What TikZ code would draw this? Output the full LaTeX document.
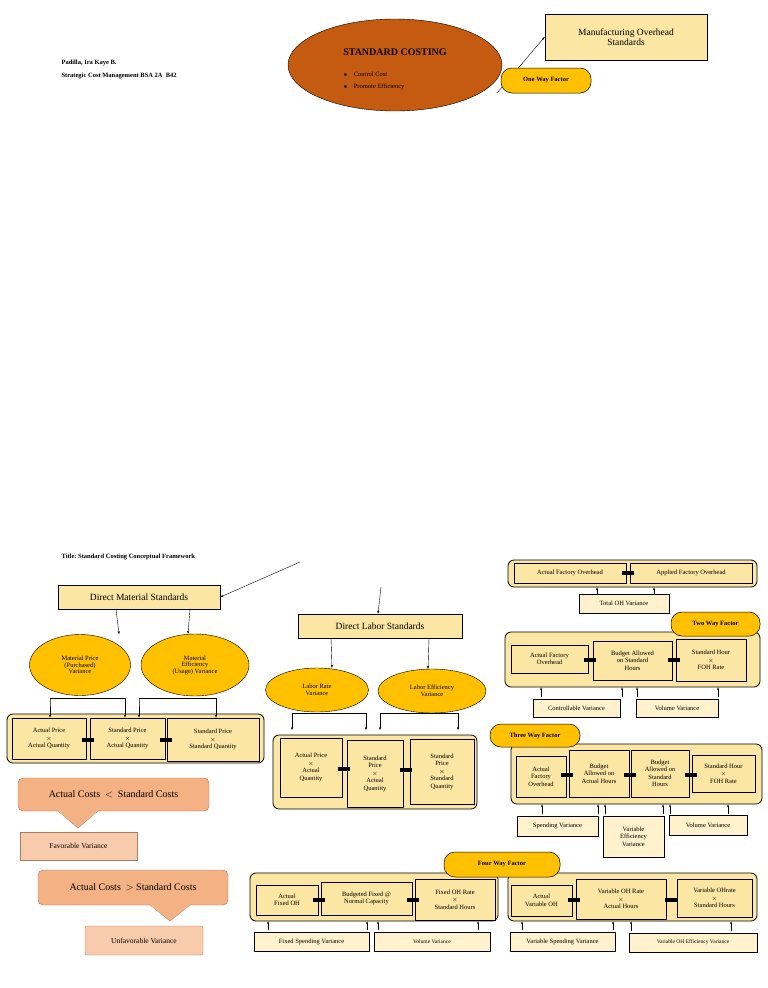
\documentclass[tikz,border=0pt]{standalone}
\usepackage{fontspec}
\setmainfont{Liberation Serif}
\usetikzlibrary{fit,shapes.geometric,shapes.callouts,arrows.meta}
\definecolor{lt}{HTML}{FCE6A4}
\definecolor{gold}{HTML}{FFC000}
\definecolor{rust}{HTML}{C55A11}
\definecolor{salm}{HTML}{F4B183}
\definecolor{pale}{HTML}{F8CBAD}
\definecolor{vpale}{HTML}{FFF2CC}
\newcommand\R[7]{\node[#1,fit={(#3,#4)(#5,#6)},inner sep=0pt] (#2) {}; \node[font=\fontsize{6.5}{7.5}\selectfont,align=center] at (#2.center) {#7};}
\newcommand\E[7]{\node[ell,minimum width=#5pt,minimum height=#6pt] (#1) at (#3,#4) {}; \node[font=\fontsize{#7}{#7}\selectfont,align=center] at (#1.center) {#2};}
\newcommand\B[2]{\fill (#1-6,#2-2) rectangle (#1+6,#2+2);}
\begin{document}
\begin{tikzpicture}[x=1pt,y=-1pt,
 grp/.style={draw,fill=lt,rounded corners=6pt,line width=0.8pt},
 ib/.style={draw,fill=lt,line width=0.7pt},
 vb/.style={draw,fill=vpale,line width=0.5pt},
 std/.style={draw,fill=lt,line width=0.8pt},
 pill/.style={draw,fill=gold,rounded corners=11pt,line width=0.5pt},
 ell/.style={ellipse,draw,fill=gold,inner sep=0pt},
 arr/.style={-{Stealth[length=3pt]},line width=0.4pt},
 sa/.style={-{Stealth[length=2.5pt]},line width=0.4pt}]
\useasboundingbox (0,0) rectangle (768,988);
\fill[white] (0,0) rectangle (768,988);
\node[anchor=west,font=\bfseries\fontsize{6.5}{7.5}\selectfont] (n1) at (58,63) {Padilla, Ira Kaye B.};
\node[anchor=west,font=\bfseries\fontsize{6.5}{7.5}\selectfont] (n2) at (58,76) {Strategic Cost Management BSA 2A\ \ B42};
\node[ellipse,draw,fill=rust,minimum width=214pt,minimum height=92pt] (sc) at (395,65) {};
\node[font=\bfseries\fontsize{10}{11}\selectfont] at (395,52) {STANDARD COSTING};
\node[anchor=west,font=\fontsize{6.5}{7.5}\selectfont] at (340,74) {$\bullet$\quad Control Cost};
\node[anchor=west,font=\fontsize{6.5}{7.5}\selectfont] at (340,87) {$\bullet$\quad Promote Efficiency};
\R{std}{mo}{545}{14}{707}{60}{\fontsize{9.5}{11}\selectfont Manufacturing Overhead\\\fontsize{9.5}{11}\selectfont Standards}
\draw[arr] (497,93) -- (mo.west);
\R{pill}{owf}{501}{68}{591}{93}{\bfseries One Way Factor}
\node[anchor=west,font=\bfseries\fontsize{6.5}{7.5}\selectfont] (tt) at (58,557) {Title:\ Standard Costing Conceptual Framework};
% direct material
\R{std}{dm}{58}{585}{220}{609}{\fontsize{9.5}{11}\selectfont Direct Material Standards}
\coordinate (t1) at (300,562);
\draw[arr] (t1) -- (dm.east);
\E{mp}{Material Price\\(Purchased)\\Variance}{80}{665}{101}{61}{6.5}
\E{me}{Material\\Efficiency\\(Usage) Variance}{195}{665}{108}{62}{6.5}
\draw[arr] (dm.south -| 116,0) -- (mp.north -| 119,0);
\draw[arr] (dm.south -| 190,0) -- (me.north -| 188,0);
\R{grp}{mg}{7}{714}{264}{763}{}
\R{ib}{m1}{12}{718}{86}{759}{Actual Price\\$\times$\\Actual Quantity}
\R{ib}{m2}{90}{718}{165}{759}{Standard Price\\$\times$\\Actual Quantity}
\R{ib}{m3}{167}{718}{259}{761}{Standard Price\\$\times$\\Standard Quantity}
\B{88}{740}\B{166}{740}
\draw[arr] (mp.south -| 50,0) ++(0,3) -- (50,698) -- (m1.north -| 50,0);
\draw[arr] (50,698) -- (125,698) -- (m2.north -| 125,0);
\draw[arr] (me.south -| 139,0) ++(0,3) -- (139,698) -- (m2.north -| 139,0);
\draw[arr] (139,698) -- (216,698) -- (m3.north -| 216,0);
% direct labor
\R{std}{dl}{298}{614}{462}{638}{\fontsize{9.5}{11}\selectfont Direct Labor Standards}
\coordinate (t2) at (381,587);
\draw[arr] (t2) -- (dl.north -| 378,0);
\E{lr}{Labor Rate\\Variance}{317}{690}{103}{44}{6.5}
\E{le}{Labor Efficiency\\Variance}{432}{691}{108}{44}{6.5}
\draw[arr] (dl.south -| 331,0) -- (lr.north -| 332,0);
\draw[arr] (dl.south -| 429,0) -- (le.north -| 428,0);
\R{grp}{lg}{273}{735}{477}{809}{}
\R{ib}{l1}{280}{738}{342}{797}{Actual Price\\$\times$\\Actual\\Quantity}
\R{ib}{l2}{347}{740}{403}{807}{Standard\\Price\\$\times$\\Actual\\Quantity}
\R{ib}{l3}{410}{739}{474}{804}{Standard\\Price\\$\times$\\Standard\\Quantity}
\B{344}{769}\B{406}{770}
\draw[arr] (292,713) -- (292,730);
\draw (292,713) -- (366,713); \draw[arr] (366,713) -- (366,730);
\draw[arr] (380,713) -- (380,730);
\draw (380,713) -- (458,713); \draw[arr] (458,713) -- (458,730);
% callouts
\R{draw=salm!70!black,fill=salm,rounded corners=5pt}{ac1}{18}{778}{209}{811}{\fontsize{10}{12}\selectfont Actual Costs \ $<$\ \ Standard Costs}
\fill[salm] (58,810) -- (78,828) -- (98,810) -- cycle;
\draw[salm!70!black] (58,811) -- (78,828) -- (98,811);
\R{draw=salm!70!black,fill=pale}{fv}{20}{832}{137}{860}{\fontsize{7.5}{9}\selectfont Favorable Variance}
\R{draw=salm!70!black,fill=salm,rounded corners=5pt}{ac2}{38}{870}{228}{905}{\fontsize{10}{12}\selectfont Actual Costs \ $>$ Standard Costs}
\fill[salm] (150,904) -- (170,921) -- (190,904) -- cycle;
\draw[salm!70!black] (150,905) -- (170,921) -- (190,905);
\R{draw=salm!70!black,fill=pale,rounded corners=2pt}{uv}{85}{926}{203}{955}{\fontsize{7.5}{9}\selectfont Unfavorable Variance}
% total OH
\R{grp}{tg}{508}{560}{757}{587}{}
\R{ib}{t1b}{514}{563}{626}{583}{Actual Factory Overhead}
\R{ib}{t2b}{630}{563}{752}{583}{Applied Factory Overhead}
\B{628}{573}
\R{vb}{tov}{579}{594}{669}{613}{Total OH Variance}
\draw[sa] (tov.north -| 597,0) -- (tg.south -| 597,0);
\draw[sa] (tov.north -| 654,0) -- (tg.south -| 654,0);
% two way
\R{grp}{twg}{505}{632}{760}{687}{}
\R{pill}{twf}{671}{612}{760}{636}{\bfseries Two Way Factor}
\R{ib}{w1}{511}{645}{588}{673}{Actual Factory\\Overhead}
\R{ib}{w2}{593}{641}{672}{680}{Budget Allowed\\on Standard\\Hours}
\R{ib}{w3}{676}{639}{746}{681}{Standard Hour\\$\times$\\FOH Rate}
\B{590}{660}\B{674}{660}
\R{vb}{cv}{533}{699}{620}{717}{Controllable Variance}
\R{vb}{vv}{636}{699}{718}{717}{Volume Variance}
\foreach \x in {541,622}{\draw[sa] (cv.north -| \x,0) ++(0,-2) -- (twg.south -| \x,0);}
\foreach \x in {637,718}{\draw[sa] (vv.north -| \x,0) ++(0,-2) -- (twg.south -| \x,0);}
% three way
\R{grp}{thg}{511}{744}{762}{804}{}
\R{pill}{thf}{490}{724}{580}{747}{\bfseries Three Way Factor}
\R{ib}{h1}{516}{756}{566}{797}{Actual\\Factory\\Overhead}
\R{ib}{h2}{569}{750}{629}{797}{Budget\\Allowed on\\Actual Hours}
\R{ib}{h3}{631}{750}{689}{797}{Budget\\Allowed on\\Standard\\Hours}
\R{ib}{h4}{692}{755}{755}{792}{Standard Hour\\$\times$\\FOH Rate}
\B{567}{775}\B{630}{775}\B{691}{775}
\R{vb}{sv}{517}{816}{598}{836}{Spending Variance}
\R{vb}{ve}{603}{816}{664}{857}{Variable\\Efficiency\\Variance}
\R{vb}{v3}{669}{815}{747}{835}{Volume Variance}
\foreach \x in {542,598}{\draw[sa] (sv.north -| \x,0) ++(0,-2) -- (thg.south -| \x,0);}
\foreach \x in {605,663}{\draw[sa] (ve.north -| \x,0) ++(0,-2) -- (thg.south -| \x,0);}
\foreach \x in {670,728}{\draw[sa] (v3.north -| \x,0) ++(0,-1) -- (thg.south -| \x,0);}
% four way
\R{grp}{fg1}{250}{873}{498}{921}{}
\R{grp}{fg2}{508}{873}{757}{921}{}
\R{pill}{fwf}{444}{852}{560}{877}{\bfseries Four Way Factor}
\R{ib}{f1}{256}{885}{318}{915}{Actual\\Fixed OH}
\R{ib}{f2}{321}{882}{412}{915}{Budgeted Fixed @\\Normal Capacity}
\R{ib}{f3}{415}{879}{495}{920}{Fixed OH Rate\\$\times$\\Standard Hours}
\B{319}{900}\B{413}{900}
\R{ib}{g1}{511}{885}{572}{916}{Actual\\Variable OH}
\R{ib}{g2}{576}{879}{666}{919}{Variable OH Rate\\$\times$\\Actual Hours}
\R{ib}{g3}{677}{879}{752}{917}{Variable OHrate\\$\times$\\Standard Hours}
\B{574}{900}\B{671}{900}
\R{vb}{fsv}{254}{932}{369}{951}{Fixed Spending Variance}
\R{vb}{fvv}{374}{932}{490}{951}{\fontsize{5.5}{6.5}\selectfont Volume Variance}
\R{vb}{vsv}{510}{932}{615}{951}{Variable Spending Variance}
\R{vb}{voe}{629}{933}{757}{952}{\fontsize{5.5}{6.5}\selectfont Variable OH Efficiency Variance}
\foreach \x in {268,367}{\draw[sa] (fsv.north -| \x,0) ++(0,-2) -- (fg1.south -| \x,0);}
\foreach \x in {378,478}{\draw[sa] (fvv.north -| \x,0) ++(0,-2) -- (fg1.south -| \x,0);}
\foreach \x in {522,613}{\draw[sa] (vsv.north -| \x,0) ++(0,-2) -- (fg2.south -| \x,0);}
\foreach \x in {631,731}{\draw[sa] (voe.north -| \x,0) ++(0,-2) -- (fg2.south -| \x,0);}
\end{tikzpicture}
\end{document}
